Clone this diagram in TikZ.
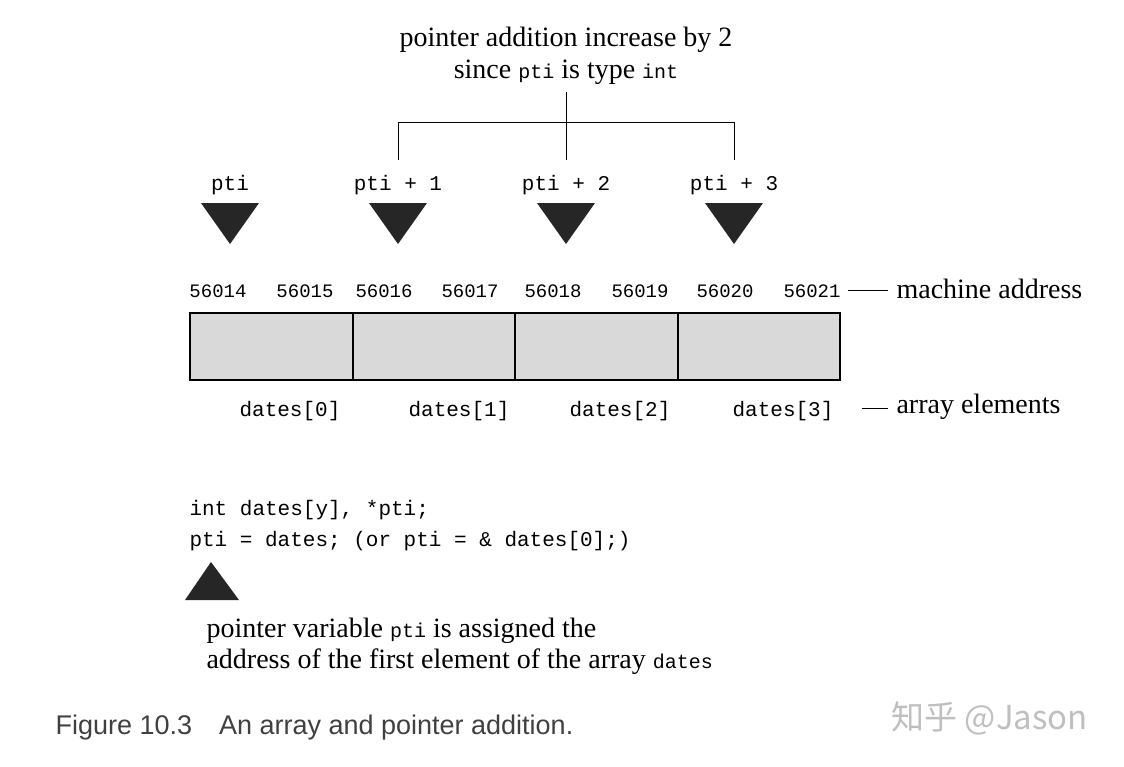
\documentclass[tikz,border=0pt]{standalone}
\usepackage{fontspec}
\setmainfont{Liberation Serif}
\setmonofont{Liberation Mono}
\newfontfamily\capf{Liberation Sans}
\newfontfamily\cjk{Noto Sans CJK SC}
\newcommand{\mt}[1]{{\ttfamily\fontsize{20}{22}\selectfont #1}}
\begin{document}
\begin{tikzpicture}[x=1pt,y=-1pt,
  ser/.style={font=\fontsize{28}{32}\selectfont},
  mono/.style={font=\fontsize{21}{24}\selectfont\ttfamily},
  tri/.style={fill=black!85,draw=none}]
\useasboundingbox (0,0) rectangle (1124,766);
\node[ser] (t1) at (566,40) {pointer addition increase by 2};
\node[ser] (t2) at (566,72) {since \mt{pti} is type \mt{int}};
\draw[line width=1pt] (566,92) -- (566,160) (398,160) -- (398,122) -- (734,122) -- (734,160);
\foreach \x/\t in {230/pti,398/pti + 1,566/pti + 2,734/pti + 3}{
  \node[mono] at (\x,185) {\t};
  \fill[tri] (\x-29,203) -- (\x+29,203) -- (\x,244) -- cycle;}
\foreach \x/\t in {218/56014,305/56015,384/56016,470/56017,553/56018,640/56019,725/56020,812/56021}
  \node[mono,font=\fontsize{19}{22}\selectfont\ttfamily] at (\x,291) {\t};
\draw[line width=1pt] (848,290) -- (888,290);
\node[ser,anchor=west] (ma) at (893,289) {machine address};
\draw[line width=2pt,fill=black!15] (190,313) rectangle (840,380);
\foreach \x in {353,515,678} \draw[line width=2pt] (\x,313) -- (\x,380);
\foreach \x/\i in {290/0,459/1,620/2,783/3} \node[mono] at (\x,411) {dates[\i]};
\draw[line width=1pt] (862,408) -- (888,408);
\node[ser,anchor=west] (ae) at (893,407) {array elements};
\node[mono,anchor=west] at (186,510) {int dates[y], *pti;};
\node[mono,anchor=west] at (186,541) {pti = dates; (or pti = \& dates[0];)};
\fill[tri] (185,600) -- (239,600) -- (211,562) -- cycle;
\node[ser,anchor=west] at (203,631) {pointer variable \mt{pti} is assigned the};
\node[ser,anchor=west] at (203,662) {address of the first element of the array \mt{dates}};
\node[anchor=west,text=black!75,font=\capf\fontsize{27}{30}\selectfont] at (52,728) {Figure 10.3\quad An array and pointer addition.};
\node[anchor=west,text=black!25,font=\cjk\fontsize{33}{36}\selectfont] at (888,718) {知乎 @Jason};
\end{tikzpicture}
\end{document}
